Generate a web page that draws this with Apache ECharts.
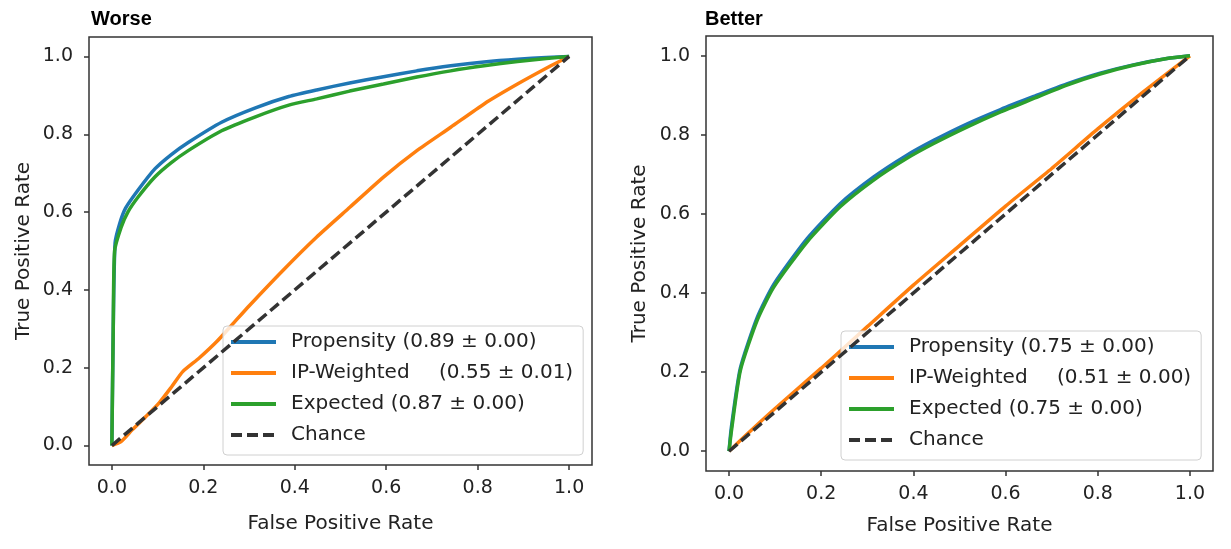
<!DOCTYPE html>
<html>
<head>
<meta charset="utf-8">
<script src="https://cdn.jsdelivr.net/npm/echarts@6/dist/echarts.min.js"></script>
<style>
html,body{margin:0;padding:0;background:#fff;}
#c{width:1231px;height:549px;}
</style>
</head>
<body>
<div id="c"></div>
<script>
// ---------- data ----------
const panelTitles = ['Worse', 'Better'];
const tickValues = [0, 0.2, 0.4, 0.6, 0.8, 1.0];
const tickLabels = ['0.0', '0.2', '0.4', '0.6', '0.8', '1.0'];
const xAxisTitle = 'False Positive Rate';
const yAxisTitle = 'True Positive Rate';

const worseNames = ['Propensity (0.89 ± 0.00)', 'IP-Weighted    \u2009(0.55 ± 0.01)', 'Expected (0.87 ± 0.00)', 'Chance'];
const betterNames = ['Propensity (0.75 ± 0.00)', 'IP-Weighted    \u2009(0.51 ± 0.00)', 'Expected (0.75 ± 0.00)', 'Chance'];

// Worse panel
const worsePropX = [0, 0.003, 0.007, 0.017, 0.03, 0.057, 0.094, 0.13, 0.167, 0.24, 0.314, 0.387, 0.448, 0.52, 0.594, 0.667, 0.741, 0.814, 0.887, 0.95, 1];
const worsePropY = [0, 0.3, 0.52, 0.57, 0.61, 0.656, 0.711, 0.748, 0.779, 0.831, 0.868, 0.897, 0.914, 0.932, 0.948, 0.963, 0.976, 0.986, 0.993, 0.997, 1];
const worseIpwX = [0, 0.02, 0.045, 0.075, 0.103, 0.13, 0.155, 0.191, 0.23, 0.264, 0.301, 0.374, 0.448, 0.521, 0.594, 0.667, 0.741, 0.814, 0.887, 0.96, 1];
const worseIpwY = [0, 0.01, 0.041, 0.075, 0.109, 0.15, 0.19, 0.225, 0.268, 0.312, 0.36, 0.45, 0.536, 0.613, 0.69, 0.758, 0.818, 0.878, 0.929, 0.976, 1];
const worseExpX = [0, 0.003, 0.006, 0.02, 0.035, 0.057, 0.094, 0.13, 0.167, 0.24, 0.314, 0.387, 0.448, 0.52, 0.594, 0.667, 0.741, 0.814, 0.887, 0.95, 1];
const worseExpY = [0, 0.3, 0.5, 0.56, 0.6, 0.638, 0.69, 0.727, 0.758, 0.809, 0.845, 0.875, 0.891, 0.911, 0.929, 0.947, 0.963, 0.976, 0.987, 0.995, 1];

// Better panel
const betterPropX = [0, 0.005, 0.0245, 0.061, 0.097, 0.169, 0.241, 0.313, 0.385, 0.444, 0.517, 0.589, 0.661, 0.733, 0.805, 0.877, 0.95, 1];
const betterPropY = [0, 0.06, 0.21, 0.338, 0.422, 0.537, 0.626, 0.693, 0.748, 0.786, 0.828, 0.864, 0.897, 0.929, 0.956, 0.977, 0.993, 1];
const betterIpwX = [0, 0.05, 0.1, 0.2, 0.3, 0.4, 0.5, 0.6, 0.7, 0.8, 0.9, 1];
const betterIpwY = [0, 0.055, 0.108, 0.21, 0.315, 0.42, 0.52, 0.62, 0.715, 0.815, 0.91, 1];
const betterExpX = [0, 0.005, 0.0245, 0.061, 0.097, 0.169, 0.241, 0.313, 0.385, 0.444, 0.517, 0.589, 0.661, 0.733, 0.805, 0.877, 0.95, 1];
const betterExpY = [0, 0.05, 0.204, 0.331, 0.415, 0.529, 0.618, 0.685, 0.740, 0.778, 0.820, 0.858, 0.892, 0.926, 0.954, 0.976, 0.993, 1];

const chanceX = [0, 1];
const chanceY = [0, 1];

// ---------- styling ----------
const C_BLUE = '#1f77b4', C_ORANGE = '#ff7f0e', C_GREEN = '#2ca02c', C_CHANCE = '#333333';
const FONT = 'DejaVu Sans';
const pairs = (xs, ys) => xs.map((x, i) => [x, ys[i]]);
const fmt = v => tickLabels[tickValues.findIndex(t => Math.abs(t - v) < 1e-9)] || '';

const panels = [
  { grid: {left: 89, top: 37, width: 503, height: 428},
    xNameGap: 49, yNameGap: 55, legend: {left: 223, top: 326}, title: {left: 91},
    names: worseNames, series: [[worsePropX, worsePropY], [worseIpwX, worseIpwY], [worseExpX, worseExpY]] },
  { grid: {left: 706, top: 36, width: 507, height: 435},
    xNameGap: 45, yNameGap: 56, legend: {left: 841, top: 331}, title: {left: 705},
    names: betterNames, series: [[betterPropX, betterPropY], [betterIpwX, betterIpwY], [betterExpX, betterExpY]] }
];

const grid = [], xAxis = [], yAxis = [], series = [], legend = [], title = [];
const colors = [C_BLUE, C_ORANGE, C_GREEN];

panels.forEach((p, pi) => {
  const gi = grid.length;
  grid.push(Object.assign({show: true, borderColor: '#333', borderWidth: 1.5, backgroundColor: '#fff'}, p.grid));
  const common = {
    gridIndex: gi, type: 'value', min: -0.05, max: 1.05,
    nameLocation: 'middle',
    nameTextStyle: {fontFamily: FONT, fontSize: 20, color: '#222'},
    axisLine: {show: false, onZero: false},
    axisTick: {show: true, inside: false, length: 5, lineStyle: {color: '#333', width: 1.5}, customValues: tickValues},
    splitLine: {show: false}
  };
  xAxis.push(Object.assign({}, common, {
    name: xAxisTitle, nameGap: p.xNameGap,
    axisLabel: {fontFamily: FONT, fontSize: 19, color: '#222', margin: 14, customValues: tickValues, formatter: fmt}
  }));
  yAxis.push(Object.assign({}, common, {
    name: yAxisTitle, nameGap: p.yNameGap,
    axisLabel: {fontFamily: FONT, fontSize: 19, color: '#222', margin: 16, customValues: tickValues, formatter: fmt}
  }));
  p.series.forEach((s, si) => {
    series.push({
      type: 'line', name: p.names[si], xAxisIndex: gi, yAxisIndex: gi,
      data: pairs(s[0], s[1]), symbol: 'none', showSymbol: false, clip: false, smooth: 0.2,
      lineStyle: {color: colors[si], width: 3.5}, itemStyle: {color: colors[si]},
      z: 2 + si
    });
  });
  series.push({
    type: 'line', name: 'Chance', xAxisIndex: gi, yAxisIndex: gi,
    data: pairs(chanceX, chanceY), symbol: 'none', showSymbol: false, clip: false,
    lineStyle: {color: C_CHANCE, width: 3.5, type: [11, 5]}, itemStyle: {color: C_CHANCE}, z: 6
  });
  legend.push({
    data: p.names, left: p.legend.left, top: p.legend.top, orient: 'vertical',
    itemWidth: 45, itemHeight: 20, itemGap: 11, selectedMode: false,
    padding: [6, 10, 10, 6], borderColor: '#d0d0d0', borderWidth: 1, borderRadius: 4,
    backgroundColor: 'rgba(255,255,255,0.8)',
    itemStyle: {color: 'rgba(0,0,0,0)', borderColor: 'rgba(0,0,0,0)', borderWidth: 0, opacity: 0},
    lineStyle: {width: 4},
    textStyle: {fontFamily: FONT, fontSize: 20, color: '#222', lineHeight: 20, padding: [0, 0, 0, 10]}
  });
  title.push({
    text: panelTitles[pi], left: p.title.left, top: 9, padding: 0,
    textStyle: {fontFamily: 'Liberation Sans', fontWeight: 'bold', fontSize: 20, color: '#000'}
  });
});

const chart = echarts.init(document.getElementById('c'), null, {renderer: 'canvas'});
chart.setOption({
  animation: false, backgroundColor: '#fff',
  title, grid, xAxis, yAxis, series, legend
});
</script>
</body>
</html>
